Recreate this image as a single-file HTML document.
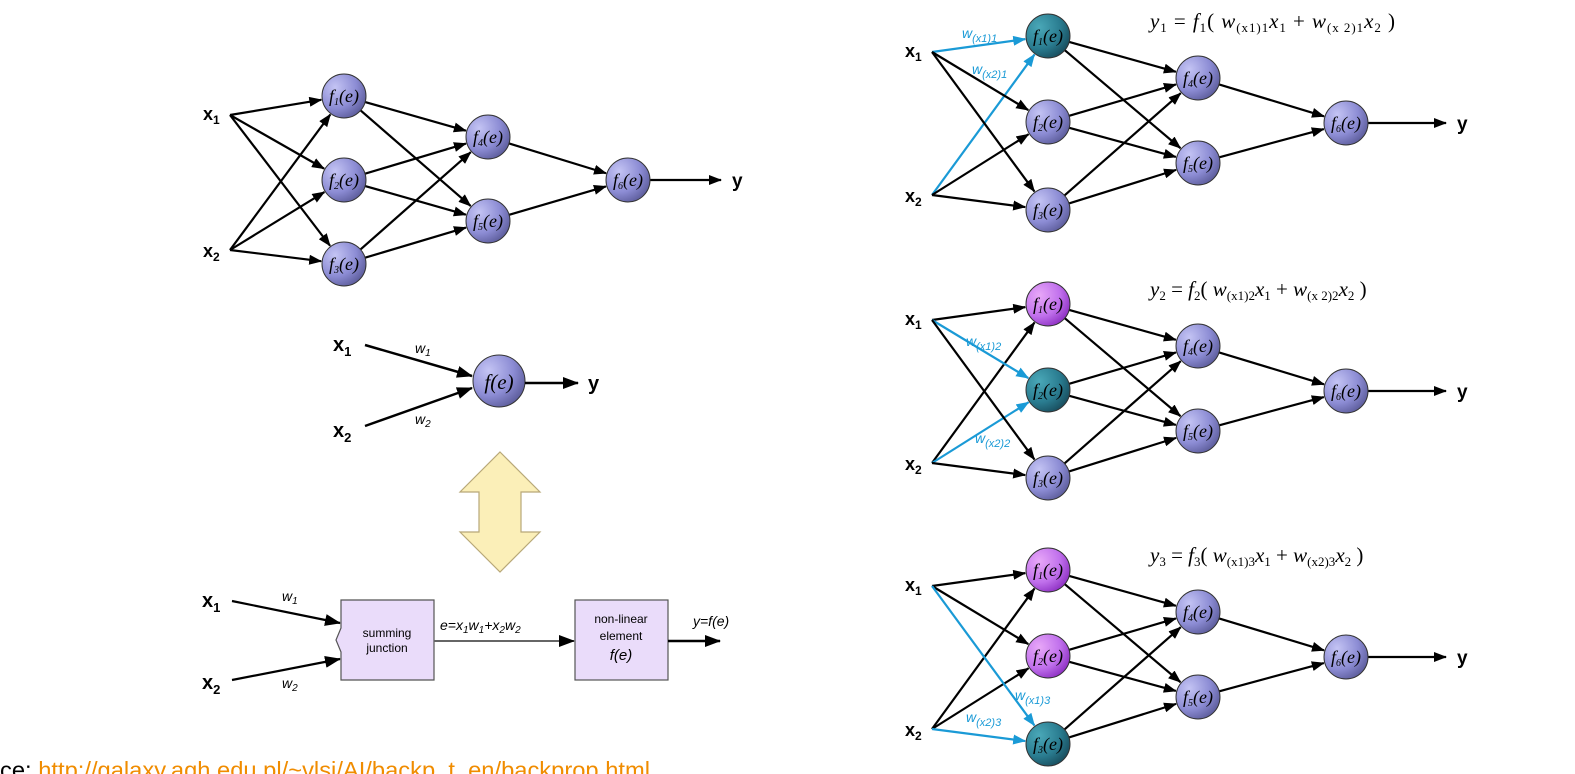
<!DOCTYPE html>
<html><head><meta charset="utf-8"><style>
html,body{margin:0;padding:0;background:#fff;width:1575px;height:774px;overflow:hidden}
svg{display:block}
</style></head><body>
<svg id="s" width="1575" height="774" xmlns="http://www.w3.org/2000/svg" font-family="Liberation Sans, sans-serif">
<defs>
<radialGradient id="gB" cx="0.3" cy="0.3" r="0.8"><stop offset="0" stop-color="#c4c4f4"/><stop offset="0.6" stop-color="#8c8cd4"/><stop offset="1" stop-color="#5a5a98"/></radialGradient>
<radialGradient id="gT" cx="0.3" cy="0.3" r="0.8"><stop offset="0" stop-color="#4aa8b8"/><stop offset="0.6" stop-color="#2a7c90"/><stop offset="1" stop-color="#174a5a"/></radialGradient>
<radialGradient id="gP" cx="0.3" cy="0.3" r="0.8"><stop offset="0" stop-color="#e8a8f8"/><stop offset="0.6" stop-color="#c070ec"/><stop offset="1" stop-color="#8a2cc0"/></radialGradient>
<marker id="ak" markerWidth="13" markerHeight="10" refX="12" refY="5" orient="auto" markerUnits="userSpaceOnUse"><path d="M0,0 L13,5 L0,10z" fill="#000"/></marker>
<marker id="akL" markerWidth="16" markerHeight="12" refX="15" refY="6" orient="auto" markerUnits="userSpaceOnUse"><path d="M0,0 L16,6 L0,12z" fill="#000"/></marker>
<marker id="ab" markerWidth="13" markerHeight="10" refX="12" refY="5" orient="auto" markerUnits="userSpaceOnUse"><path d="M0,0 L13,5 L0,10z" fill="#1a9ad6"/></marker>
</defs>
<g id="g"></g>
<path d="M500,452 L540,492 L521,492 L521,532 L540,532 L500,572 L460,532 L479,532 L479,492 L460,492 Z" fill="#fbefb8" stroke="#b8a878" stroke-width="1.2"/>
<text x="333" y="351" font-size="20" font-weight="bold">x<tspan font-size="13" dy="5">1</tspan></text>
<text x="333" y="437" font-size="20" font-weight="bold">x<tspan font-size="13" dy="5">2</tspan></text>
<line x1="365" y1="345" x2="472" y2="376" stroke="#000" stroke-width="2.5" marker-end="url(#akL)"/>
<line x1="365" y1="426" x2="472" y2="388" stroke="#000" stroke-width="2.5" marker-end="url(#akL)"/>
<text x="415" y="353" font-size="14" font-style="italic">w<tspan font-size="10" dy="3">1</tspan></text>
<text x="415" y="424" font-size="14" font-style="italic">w<tspan font-size="10" dy="3">2</tspan></text>
<circle cx="499" cy="381" r="26" fill="url(#gB)" stroke="#333" stroke-width="1"/>
<text x="499" y="389" font-size="21" font-style="italic" font-family="Liberation Serif, serif" text-anchor="middle">f(e)</text>
<line x1="525" y1="383" x2="578" y2="383" stroke="#000" stroke-width="2.5" marker-end="url(#akL)"/>
<text x="588" y="390" font-size="20" font-weight="bold">y</text>
<text x="202" y="607" font-size="20" font-weight="bold">x<tspan font-size="13" dy="5">1</tspan></text>
<text x="202" y="689" font-size="20" font-weight="bold">x<tspan font-size="13" dy="5">2</tspan></text>
<line x1="232" y1="601" x2="340" y2="623" stroke="#000" stroke-width="2.2" marker-end="url(#akL)"/>
<line x1="232" y1="680" x2="340" y2="659" stroke="#000" stroke-width="2.2" marker-end="url(#akL)"/>
<text x="282" y="601" font-size="14" font-style="italic">w<tspan font-size="10" dy="3">1</tspan></text>
<text x="282" y="688" font-size="14" font-style="italic">w<tspan font-size="10" dy="3">2</tspan></text>
<path d="M341,600 L434,600 L434,680 L341,680 L341,652 L336,640 L341,628 Z" fill="#eadcfa" stroke="#555" stroke-width="1.2"/>
<text x="387" y="637" font-size="12" text-anchor="middle">summing</text>
<text x="387" y="652" font-size="12" text-anchor="middle">junction</text>
<line x1="434" y1="641" x2="574" y2="641" stroke="#666" stroke-width="2" marker-end="url(#akL)"/>
<text x="440" y="630" font-size="14" font-style="italic">e=x<tspan font-size="10" dy="3">1</tspan><tspan dy="-3">w</tspan><tspan font-size="10" dy="3">1</tspan><tspan dy="-3">+x</tspan><tspan font-size="10" dy="3">2</tspan><tspan dy="-3">w</tspan><tspan font-size="10" dy="3">2</tspan></text>
<rect x="575" y="600" width="93" height="80" fill="#eadcfa" stroke="#555" stroke-width="1.2"/>
<text x="621" y="623" font-size="12" text-anchor="middle">non-linear</text>
<text x="621" y="640" font-size="12" text-anchor="middle">element</text>
<text x="621" y="660" font-size="15" font-style="italic" text-anchor="middle">f(e)</text>
<line x1="668" y1="641" x2="720" y2="641" stroke="#000" stroke-width="2.5" marker-end="url(#akL)"/>
<text x="693" y="626" font-size="14" font-style="italic">y=f(e)</text>
<text x="0" y="778" font-size="23" textLength="650" lengthAdjust="spacingAndGlyphs">ce: <tspan fill="#f08c00" text-decoration="underline">http://galaxy.agh.edu.pl/~vlsi/AI/backp_t_en/backprop.html</tspan></text>
<g font-family="Liberation Serif, serif" font-size="21">
<text x="1150" y="28" font-style="italic" textLength="245" lengthAdjust="spacing">y<tspan font-size="13" dy="4" font-style="normal">1</tspan><tspan dy="-4" font-style="normal"> = </tspan>f<tspan font-size="13" dy="4" font-style="normal">1</tspan><tspan dy="-4" font-style="normal">( </tspan>w<tspan font-size="13" dy="4" font-style="normal">(x1)1</tspan><tspan dy="-4">x</tspan><tspan font-size="13" dy="4" font-style="normal">1</tspan><tspan dy="-4" font-style="normal"> + </tspan>w<tspan font-size="13" dy="4" font-style="normal">(x 2)1</tspan><tspan dy="-4">x</tspan><tspan font-size="13" dy="4" font-style="normal">2</tspan><tspan dy="-4" font-style="normal"> )</tspan></text>
<text x="1150" y="296" font-style="italic">y<tspan font-size="13" dy="4" font-style="normal">2</tspan><tspan dy="-4" font-style="normal"> = </tspan>f<tspan font-size="13" dy="4" font-style="normal">2</tspan><tspan dy="-4" font-style="normal">( </tspan>w<tspan font-size="13" dy="4" font-style="normal">(x1)2</tspan><tspan dy="-4">x</tspan><tspan font-size="13" dy="4" font-style="normal">1</tspan><tspan dy="-4" font-style="normal"> + </tspan>w<tspan font-size="13" dy="4" font-style="normal">(x 2)2</tspan><tspan dy="-4">x</tspan><tspan font-size="13" dy="4" font-style="normal">2</tspan><tspan dy="-4" font-style="normal"> )</tspan></text>
<text x="1150" y="562" font-style="italic">y<tspan font-size="13" dy="4" font-style="normal">3</tspan><tspan dy="-4" font-style="normal"> = </tspan>f<tspan font-size="13" dy="4" font-style="normal">3</tspan><tspan dy="-4" font-style="normal">( </tspan>w<tspan font-size="13" dy="4" font-style="normal">(x1)3</tspan><tspan dy="-4">x</tspan><tspan font-size="13" dy="4" font-style="normal">1</tspan><tspan dy="-4" font-style="normal"> + </tspan>w<tspan font-size="13" dy="4" font-style="normal">(x2)3</tspan><tspan dy="-4">x</tspan><tspan font-size="13" dy="4" font-style="normal">2</tspan><tspan dy="-4" font-style="normal"> )</tspan></text>
</g>
</svg>
<script>
var NS="http://www.w3.org/2000/svg",G=document.getElementById("g");
function el(t,a,txt){var e=document.createElementNS(NS,t);for(var k in a)e.setAttribute(k,a[k]);if(txt!=null)e.textContent=txt;G.appendChild(e);return e;}
function edge(a,b,r,blue){var dx=b[0]-a[0],dy=b[1]-a[1],L=Math.hypot(dx,dy);
 var sx=a[0]+(a.r?dx/L*a.r:0),sy=a[1]+(a.r?dy/L*a.r:0);
 el("line",{x1:sx,y1:sy,x2:b[0]-dx/L*(r+1),y2:b[1]-dy/L*(r+1),stroke:blue?"#1a9ad6":"#000","stroke-width":2.2,"marker-end":blue?"url(#ab)":"url(#ak)"});}
function node(p,r,fill,i){el("circle",{cx:p[0],cy:p[1],r:r,fill:fill,stroke:"#333","stroke-width":1});
 var t=el("text",{x:p[0]-15,y:p[1]+6,"font-size":18,"font-style":"italic","font-family":"Liberation Serif, serif"});
 t.innerHTML='f<tspan font-size="10" dy="3">'+i+'</tspan><tspan dy="-3">(e)</tspan>';}
function net(o){
 var r=22,x1=o.x1,x2=o.x2,N=o.n;
 el("text",{x:x1[0]-27,y:x1[1]+5,"font-size":18,"font-weight":"bold"}).innerHTML='x<tspan font-size="12" dy="4">1</tspan>';
 el("text",{x:x2[0]-27,y:x2[1]+7,"font-size":18,"font-weight":"bold"}).innerHTML='x<tspan font-size="12" dy="4">2</tspan>';
 var L1=[N[0],N[1],N[2]];
 L1.forEach(function(n,i){edge(x1,n,r,o.hl==i);edge(x2,n,r,o.hl==i);});
 [N[3],N[4]].forEach(function(m){L1.forEach(function(n){var a=[n[0],n[1]];a.r=r;edge(a,m,r);});
   var a=[m[0],m[1]];a.r=r;edge(a,N[5],r);});
 var a=[N[5][0],N[5][1]];a.r=r;edge(a,[o.out,N[5][1]],0);
 el("text",{x:o.out+10,y:N[5][1]+7,"font-size":19,"font-weight":"bold"},"y");
 N.forEach(function(n,i){node(n,r,(o.c&&o.c[i])||"url(#gB)",i+1);});
 if(o.lab)o.lab.forEach(function(l){el("text",{x:l[0],y:l[1],"font-size":14,"font-style":"italic",fill:"#1a9ad6"}).innerHTML='w<tspan font-size="11" dy="4">'+l[2]+'</tspan>';});
}
net({x1:[230,115],x2:[230,250],n:[[344,96],[344,180],[344,264],[488,137],[488,221],[628,180]],out:722});
function R(dy,hl,c,lab){return {x1:[932,52+dy],x2:[932,195+dy],hl:hl,c:c,lab:lab,
 n:[[1048,36+dy],[1048,122+dy],[1048,210+dy],[1198,78+dy],[1198,163+dy],[1346,123+dy]],out:1447};}
net(R(0,0,["url(#gT)"],[[962,38,"(x1)1"],[972,74,"(x2)1"]]));
net(R(268,1,["url(#gP)","url(#gT)"],[[966,346,"(x1)2"],[975,443,"(x2)2"]]));
net(R(534,2,["url(#gP)","url(#gP)","url(#gT)"],[[1015,700,"(x1)3"],[966,722,"(x2)3"]]));
</script>
</body></html>
